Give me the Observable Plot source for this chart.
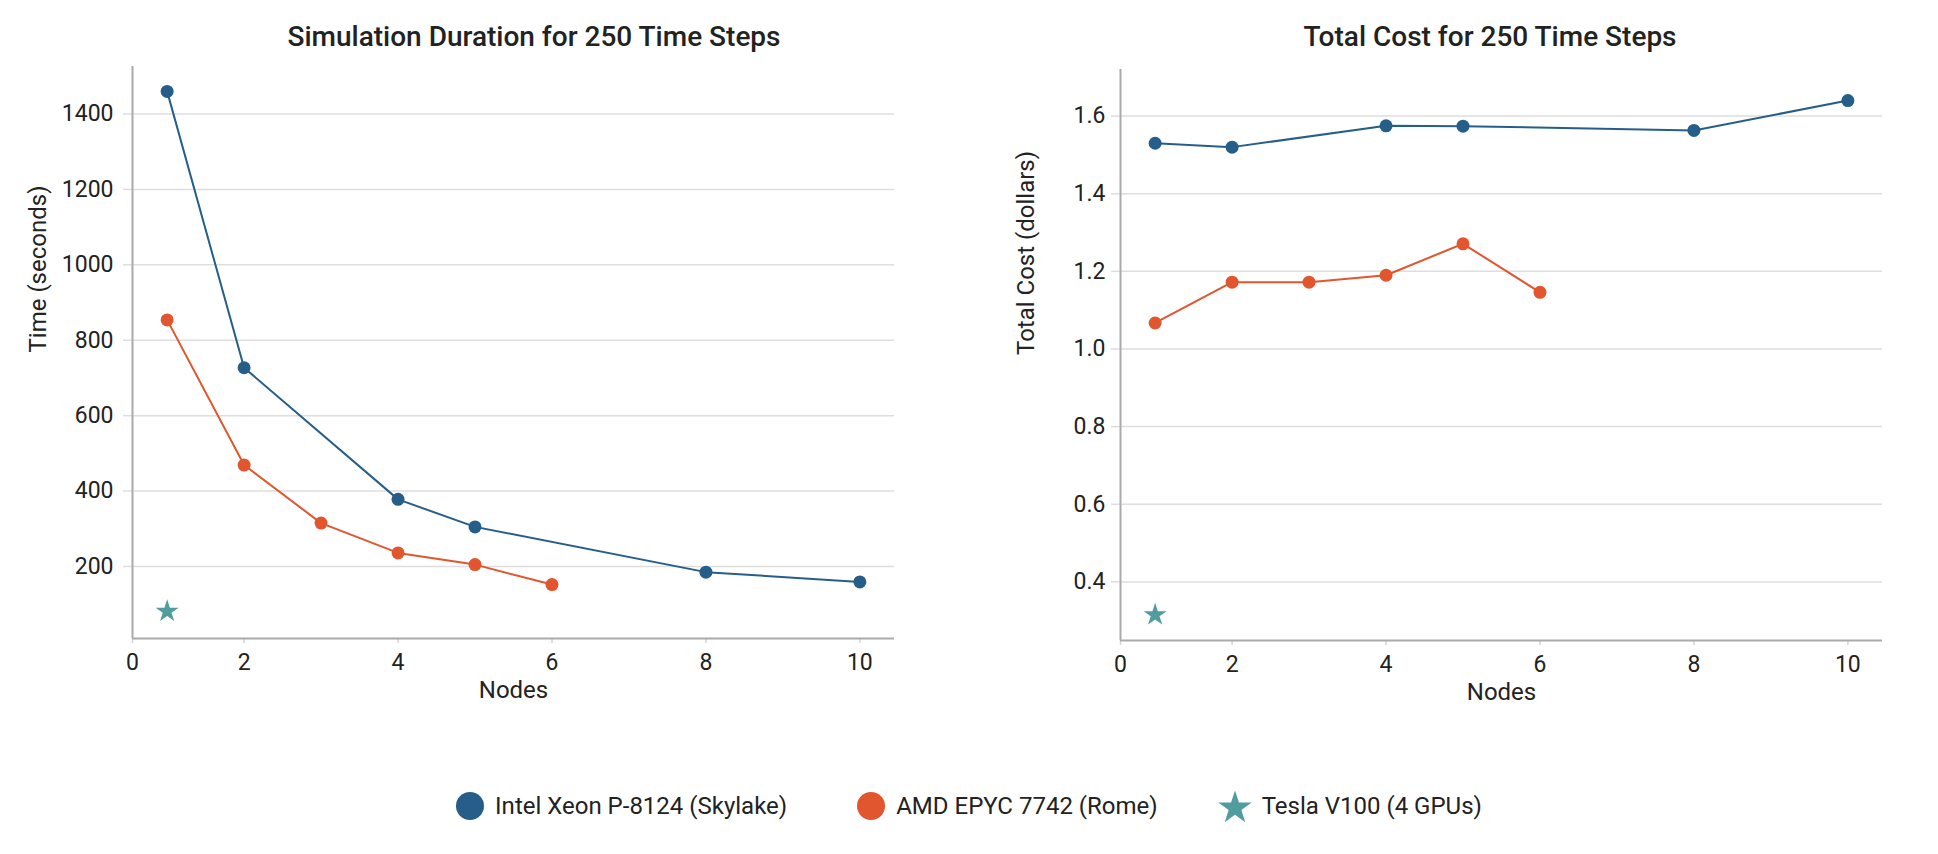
<!DOCTYPE html>
<html>
<head>
<meta charset="utf-8">
<script src="https://cdn.jsdelivr.net/npm/d3@7"></script>
<script src="https://cdn.jsdelivr.net/npm/@observablehq/plot@0.6"></script>
<style>
  body { margin: 0; background: #fff; }
  #root { position: relative; width: 1938px; height: 854px; font-family: Roboto, sans-serif; color: #222; background: #fff; overflow: hidden; }
  .title { position: absolute; top: 21px; width: 800px; text-align: center; font-size: 28px; font-weight: 500; line-height: 32px; color: #222; }
  .chart { position: absolute; top: 40px; }
  #legend { position: absolute; left: 0; top: 786px; width: 1938px; height: 40px; display: flex; justify-content: center; align-items: center; font-size: 24px; color: #222; }
  .item { display: flex; align-items: center; }
  .sw { width: 28px; height: 28px; border-radius: 50%; margin-right: 11px; }
  .star { margin-right: 9px; }
</style>
</head>
<body>
<div id="root"></div>
<script>
// ---------- data ----------
const seriesNames = ["Intel Xeon P-8124 (Skylake)", "AMD EPYC 7742 (Rome)", "Tesla V100 (4 GPUs)"];
const seriesColors = ["#265e8a", "#e1562e", "#509c9e"];

const skylakeNodes = [1, 2, 4, 5, 8, 10];
const skylakeTime  = [1460, 727, 378, 305, 185, 159];
const skylakeCost  = [1.530, 1.520, 1.575, 1.574, 1.563, 1.640];

const romeNodes = [1, 2, 3, 4, 5, 6];
const romeTime  = [854, 469, 315, 236, 205, 152];
const romeCost  = [1.067, 1.172, 1.172, 1.190, 1.271, 1.146];

const gpuNodes = [1];
const gpuTime  = [81];
const gpuCost  = [0.315];

const xTicks    = [0, 2, 4, 6, 8, 10];
const timeTicks = [200, 400, 600, 800, 1000, 1200, 1400];
const costTicks = [0.4, 0.6, 0.8, 1.0, 1.2, 1.4, 1.6];

const xDomain    = [0.55, 10.45];
const timeDomain = [9, 1526];
const costDomain = [0.249, 1.72];

const titles = ["Simulation Duration for 250 Time Steps", "Total Cost for 250 Time Steps"];
const xLabel = "Nodes";
const yLabels = ["Time (seconds)", "Total Cost (dollars)"];

// ---------- helpers ----------
const rows = (xs, ys) => xs.map((n, i) => ({nodes: n, value: ys[i]}));

function makeChart({sky, rome, gpu, yDomain, yTicks, yFormat, yLabel, margins, yTickPadding}) {
  const [blue, orange, teal] = seriesColors;
  return Plot.plot({
    width: 969,
    height: 660,
    ...margins,
    style: {fontFamily: "Roboto, sans-serif", fontSize: "23px", color: "#222", background: "transparent", overflow: "visible"},
    x: {domain: xDomain, clamp: true},
    y: {domain: yDomain},
    marks: [
      Plot.gridY({ticks: yTicks, stroke: "#dedede", strokeOpacity: 1, strokeWidth: 1.5}),
      Plot.axisY({ticks: yTicks, tickSize: 9, tickPadding: yTickPadding, stroke: "#dedede", strokeOpacity: 1, strokeWidth: 1.5,
                  fill: "#222", fontSize: 23, label: null, tickFormat: yFormat}),
      Plot.axisX({ticks: xTicks, tickSize: 5, tickPadding: 10, stroke: "#d4d4d4", strokeOpacity: 1, strokeWidth: 1.5,
                  fill: "#222", fontSize: 23, label: null, tickFormat: d3.format("d")}),
      Plot.ruleY([yDomain[0]], {stroke: "#aaaaaa", strokeWidth: 2}),
      Plot.ruleX([xDomain[0]], {stroke: "#aaaaaa", strokeWidth: 2}),
      Plot.line(sky, {x: "nodes", y: "value", stroke: blue, strokeWidth: 2}),
      Plot.dot(sky, {x: "nodes", y: "value", r: 6.5, fill: blue}),
      Plot.line(rome, {x: "nodes", y: "value", stroke: orange, strokeWidth: 2}),
      Plot.dot(rome, {x: "nodes", y: "value", r: 6.5, fill: orange}),
      Plot.dot(gpu, {x: "nodes", y: "value", r: 7.2, symbol: "star", fill: teal}),
      Plot.text([xLabel], {text: d => d, frameAnchor: "bottom", dy: 59, fontSize: 24, fill: "#222"}),
      Plot.text([yLabel], {text: d => d, frameAnchor: "left", dx: -94.5, rotate: -90, fontSize: 24, fill: "#222"})
    ]
  });
}

const root = document.getElementById("root");

// titles
[[titles[0], 534], [titles[1], 1490]].forEach(([t, cx]) => {
  const d = document.createElement("div");
  d.className = "title";
  d.style.left = (cx - 400) + "px";
  d.textContent = t;
  root.appendChild(d);
});

// charts
const left = makeChart({
  sky: rows(skylakeNodes, skylakeTime), rome: rows(romeNodes, romeTime), gpu: rows(gpuNodes, gpuTime),
  yDomain: timeDomain, yTicks: timeTicks, yFormat: d3.format("d"), yLabel: yLabels[0],
  margins: {marginLeft: 132, marginRight: 75, marginTop: 26, marginBottom: 62}, yTickPadding: 10
});
left.classList.add("chart");
left.style.left = "0px";
root.appendChild(left);

const right = makeChart({
  sky: rows(skylakeNodes, skylakeCost), rome: rows(romeNodes, romeCost), gpu: rows(gpuNodes, gpuCost),
  yDomain: costDomain, yTicks: costTicks, yFormat: d3.format(".1f"), yLabel: yLabels[1],
  margins: {marginLeft: 151, marginRight: 56, marginTop: 29, marginBottom: 60}, yTickPadding: 6
});
right.classList.add("chart");
right.style.left = "969px";
root.appendChild(right);

// legend
const legend = document.createElement("div");
legend.id = "legend";
const itemGaps = [70, 59, 0];
seriesNames.forEach((name, i) => {
  const item = document.createElement("span");
  item.className = "item";
  item.style.marginRight = itemGaps[i] + "px";
  if (i < 2) {
    const sw = document.createElement("span");
    sw.className = "sw";
    sw.style.background = seriesColors[i];
    item.appendChild(sw);
  } else {
    const ns = "http://www.w3.org/2000/svg";
    const svg = document.createElementNS(ns, "svg");
    svg.setAttribute("width", 36);
    svg.setAttribute("height", 36);
    svg.setAttribute("class", "star");
    const p = document.createElementNS(ns, "path");
    p.setAttribute("d", d3.symbol(d3.symbolStar, 344)());
    p.setAttribute("transform", "translate(18,20)");
    p.setAttribute("fill", seriesColors[2]);
    svg.appendChild(p);
    item.appendChild(svg);
  }
  const label = document.createElement("span");
  label.textContent = name;
  item.appendChild(label);
  legend.appendChild(item);
});
root.appendChild(legend);
</script>
</body>
</html>
